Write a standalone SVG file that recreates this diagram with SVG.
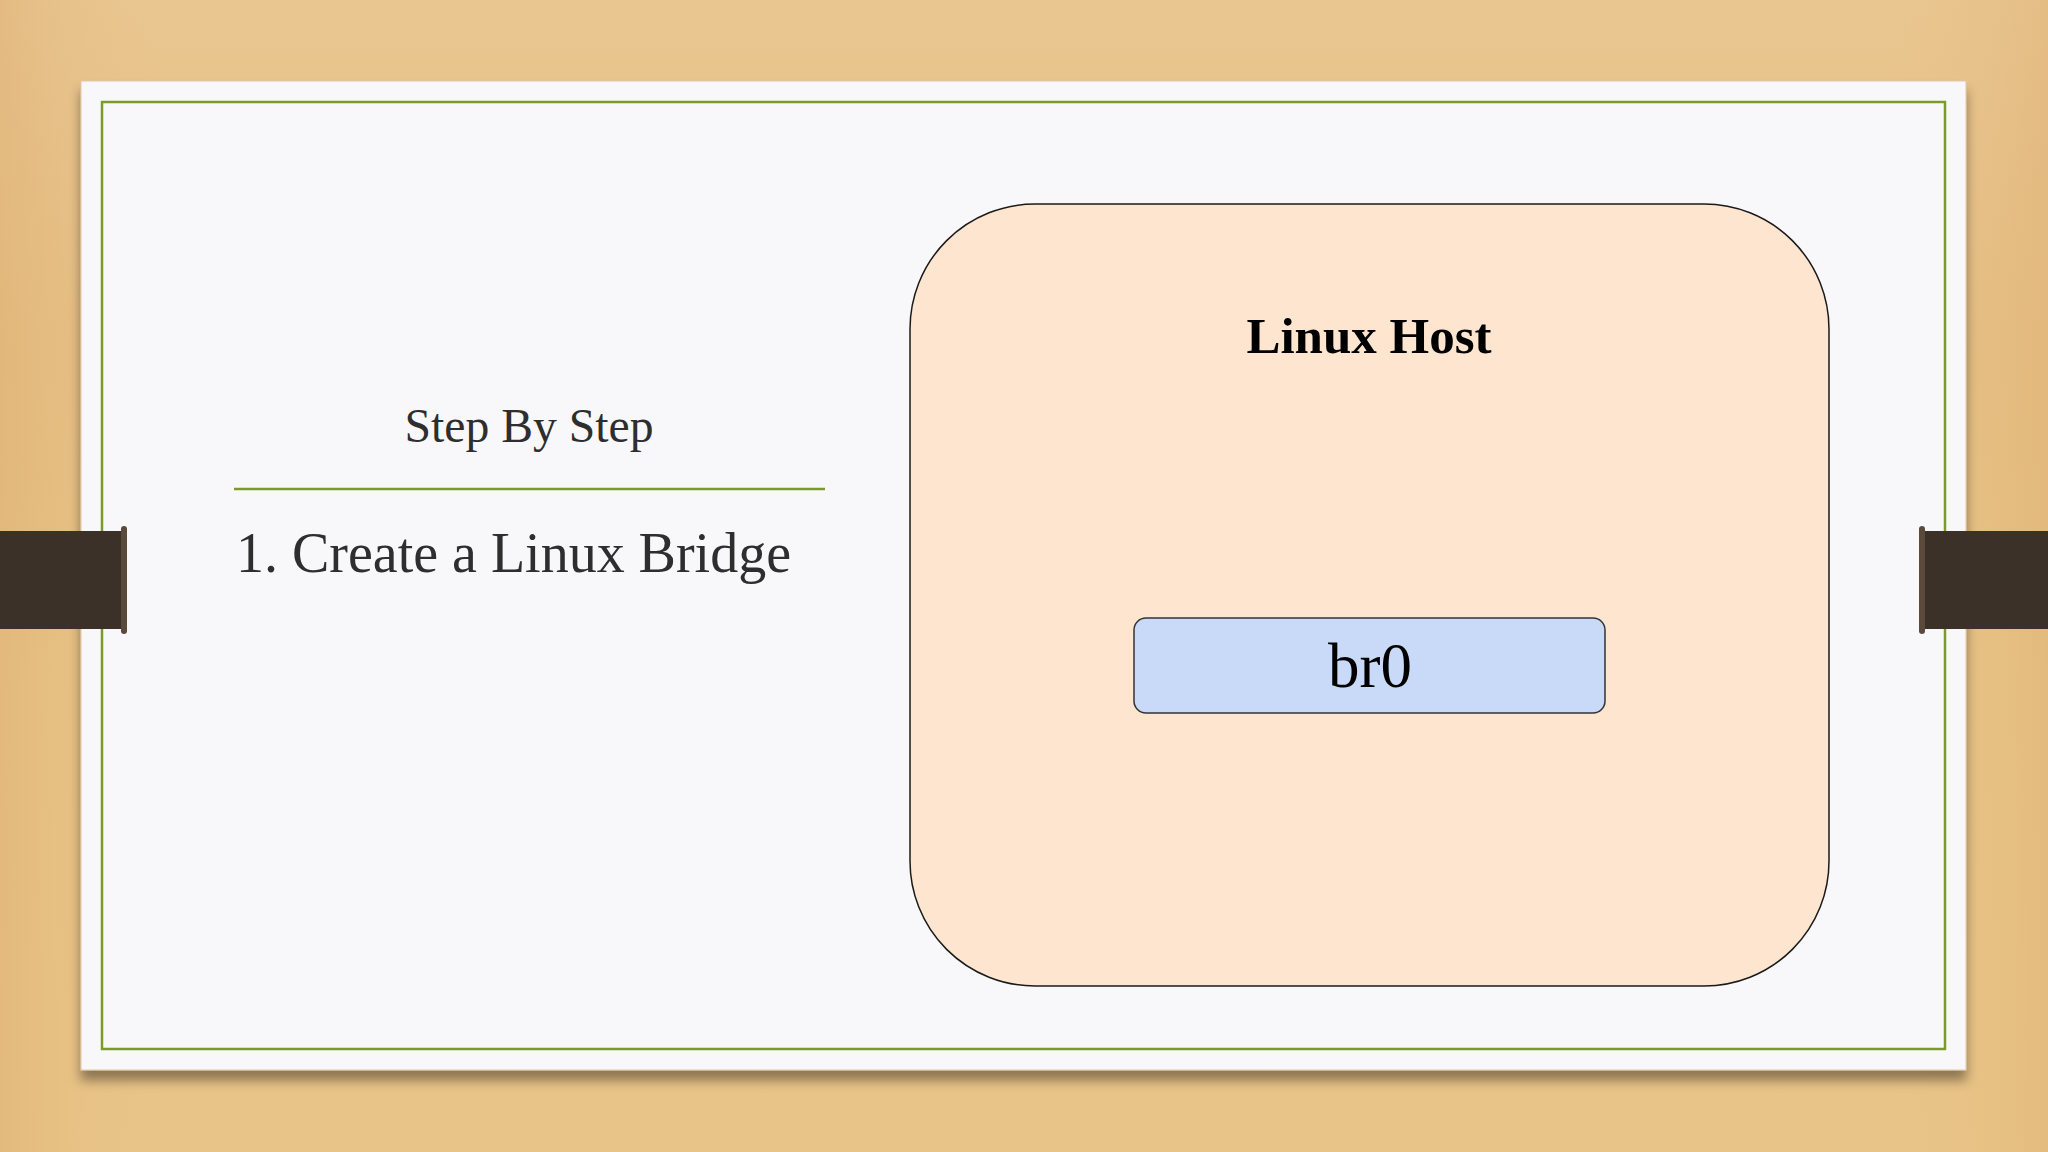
<svg xmlns="http://www.w3.org/2000/svg" width="2048" height="1152" viewBox="0 0 2048 1152">
  <defs>
    <linearGradient id="wood" x1="0" y1="0" x2="0" y2="1">
      <stop offset="0" stop-color="#e9c690"/>
      <stop offset="0.3" stop-color="#e6bf85"/>
      <stop offset="0.6" stop-color="#e8c386"/>
      <stop offset="1" stop-color="#e9c488"/>
    </linearGradient>
    <linearGradient id="woodH" x1="0" y1="0" x2="1" y2="0">
      <stop offset="0" stop-color="#d9a86a" stop-opacity="0.35"/>
      <stop offset="0.08" stop-color="#e8c488" stop-opacity="0"/>
      <stop offset="0.92" stop-color="#e8c488" stop-opacity="0"/>
      <stop offset="1" stop-color="#d9a86a" stop-opacity="0.3"/>
    </linearGradient>
    <filter id="shadow" x="-5%" y="-5%" width="110%" height="115%">
      <feGaussianBlur in="SourceAlpha" stdDeviation="6"/>
      <feOffset dx="0" dy="10" result="b"/>
      <feComponentTransfer><feFuncA type="linear" slope="0.4"/></feComponentTransfer>
      <feMerge><feMergeNode/><feMergeNode in="SourceGraphic"/></feMerge>
    </filter>
    <style>
      .tab { fill: #3c3128; }
      .cap { fill: #5a4a3c; }
      .serif { font-family: "Liberation Serif", "DejaVu Serif", serif; }
      .body { fill: #2e2e2e; }
    </style>
  </defs>

  <!-- background -->
  <rect x="0" y="0" width="2048" height="1152" fill="url(#wood)"/>
  <rect x="0" y="0" width="2048" height="1152" fill="url(#woodH)"/>

  <!-- paper -->
  <rect x="81" y="81" width="1885" height="989" fill="#f8f8fa" stroke="#e0c8a8" stroke-width="1" filter="url(#shadow)"/>
  <rect x="102" y="102" width="1843" height="947" fill="none" stroke="#7b9a2e" stroke-width="2.5"/>

  <!-- tabs -->
  <g id="tab-left">
    <rect class="tab" x="0" y="531" width="125" height="98"/>
    <rect class="cap" x="121" y="526" width="6" height="108" rx="3"/>
  </g>
  <g id="tab-right">
    <rect class="tab" x="1921" y="531" width="127" height="98"/>
    <rect class="cap" x="1919" y="526" width="6" height="108" rx="3"/>
  </g>

  <!-- left text -->
  <g id="title">
    <text class="serif body" x="529" y="442" font-size="48" text-anchor="middle" textLength="249" lengthAdjust="spacingAndGlyphs">Step By Step</text>
    <line x1="234" y1="489" x2="825" y2="489" stroke="#7b9a2e" stroke-width="2.5"/>
  </g>
  <g id="step1">
    <text class="serif body" x="236" y="572" font-size="56" textLength="555" lengthAdjust="spacingAndGlyphs">1. Create a Linux Bridge</text>
  </g>

  <!-- host -->
  <g id="linux-host">
    <rect x="910" y="204" width="919" height="782" rx="125" ry="125" fill="#fde5cf" stroke="#1a1a1a" stroke-width="1.5"/>
    <text class="serif" x="1369" y="353" font-size="51" font-weight="bold" text-anchor="middle" fill="#000">Linux Host</text>
  </g>

  <g id="br0">
    <rect x="1134" y="618" width="471" height="95" rx="12" ry="12" fill="#c9daf8" stroke="#333333" stroke-width="1.5"/>
    <text class="serif" x="1370" y="687" font-size="63" text-anchor="middle" fill="#000">br0</text>
  </g>

  <g id="connectors"></g>
</svg>
